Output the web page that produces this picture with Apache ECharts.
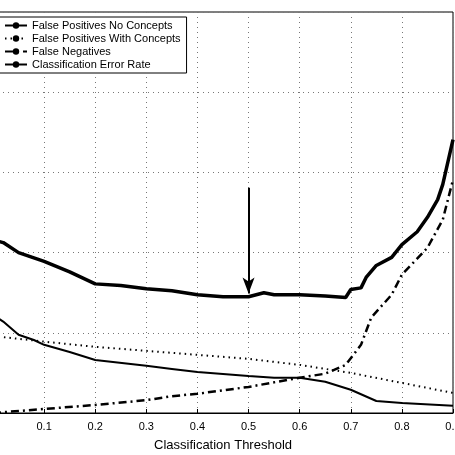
<!DOCTYPE html><html><head><meta charset="utf-8"><script src="https://cdn.jsdelivr.net/npm/echarts@6/dist/echarts.min.js"></script></head><body style="margin:0;background:#fff"><div id="c" style="width:455px;height:455px"></div><script>
const xTicks=[0,0.1,0.2,0.3,0.4,0.5,0.6,0.7,0.8,0.9];
const errX=[0,0.02,0.05,0.1,0.15,0.2,0.25,0.3,0.35,0.4,0.45,0.5,0.53,0.55,0.6,0.65,0.69,0.7,0.72,0.73,0.75,0.78,0.8,0.83,0.85,0.87,0.88,0.9];
const errY=[0.216,0.2125,0.2,0.189,0.176,0.161,0.159,0.155,0.1525,0.1475,0.145,0.145,0.15,0.1475,0.1475,0.146,0.144,0.154,0.156,0.169,0.184,0.194,0.21,0.226,0.244,0.266,0.285,0.341];
const fpnX=[0,0.02,0.05,0.08,0.1,0.15,0.2,0.3,0.35,0.4,0.5,0.55,0.6,0.65,0.7,0.75,0.8,0.9];
const fpnY=[0.1225,0.114,0.0975,0.091,0.085,0.076,0.066,0.059,0.055,0.051,0.046,0.044,0.044,0.039,0.029,0.015,0.0125,0.009];
const fpcX=[0,0.1,0.2,0.3,0.4,0.5,0.6,0.7,0.8,0.9];
const fpcY=[0.096,0.089,0.0825,0.0775,0.0725,0.0675,0.06,0.05,0.0375,0.025];
const fnX=[0,0.1,0.2,0.3,0.35,0.4,0.5,0.6,0.65,0.69,0.72,0.74,0.78,0.8,0.85,0.88,0.9];
const fnY=[0,0.005,0.01,0.016,0.021,0.024,0.0325,0.044,0.049,0.06,0.085,0.119,0.1475,0.1725,0.206,0.241,0.291];
const z=(a,b)=>a.map((v,i)=>[v,b[i]]);
const ch=echarts.init(document.getElementById('c'));
const ls=(w,t)=>({color:'#000',width:w,type:t});
ch.setOption({animation:false,
grid:{left:-7,right:2,top:12,bottom:42,outerBoundsMode:'none',containLabel:false,show:true,borderColor:'#000',borderWidth:1},
legend:{left:-6,top:17,orient:'vertical',itemGap:2,itemWidth:22,itemHeight:8,padding:[3,6,3,10],borderColor:'#000',borderWidth:1,backgroundColor:'#fff',textStyle:{fontFamily:'Liberation Sans',fontSize:11,color:'#000'},
 data:['False Positives No Concepts','False Positives With Concepts','False Negatives','Classification Error Rate']},
xAxis:{type:'value',min:0,max:0.9,interval:0.1,name:'Classification Threshold',nameLocation:'middle',nameGap:26,nameTextStyle:{fontFamily:'Liberation Sans',fontSize:13,color:'#000'},
 axisLine:{lineStyle:{color:'#000'}},axisTick:{inside:true,length:4,lineStyle:{color:'#000'}},
 axisLabel:{color:'#000',fontFamily:'Liberation Sans',fontSize:11,formatter:v=>v===0?'':String(v)},
 splitLine:{show:true,lineStyle:{color:'#777',type:[1,4]}}},
yAxis:{type:'value',min:0,max:0.5,interval:0.1,axisLabel:{show:false},axisLine:{show:true,lineStyle:{color:'#000'}},axisTick:{show:false},
 splitLine:{show:true,lineStyle:{color:'#777',type:[1,4]}}},
series:[
{name:'False Positives No Concepts',type:'line',showSymbol:false,symbol:'none',data:z(fpnX,fpnY),lineStyle:ls(2,'solid'),itemStyle:{color:'#000'}},
{name:'False Positives With Concepts',type:'line',showSymbol:false,symbol:'none',data:z(fpcX,fpcY),lineStyle:ls(2,[1.5,4]),itemStyle:{color:'#000'}},
{name:'False Negatives',type:'line',showSymbol:false,symbol:'none',data:z(fnX,fnY),lineStyle:ls(2.5,[8,4,2,4]),itemStyle:{color:'#000'}},
{name:'Classification Error Rate',type:'line',showSymbol:false,symbol:'none',data:z(errX,errY),lineStyle:ls(3.5,'solid'),itemStyle:{color:'#000'},
 markLine:{silent:true,symbol:['none','arrow'],symbolSize:[9,16],label:{show:false},lineStyle:{color:'#000',width:2,type:'solid'},
  data:[[{coord:[0.5,0.281]},{coord:[0.5,0.149]}]]}}
]});
</script></body></html>
